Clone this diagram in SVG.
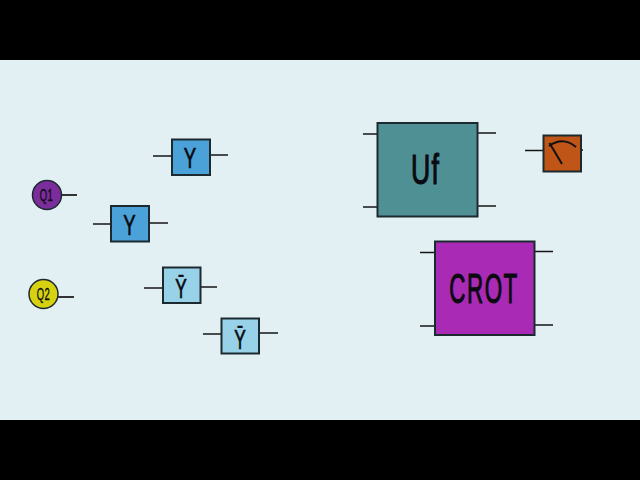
<svg xmlns="http://www.w3.org/2000/svg" width="640" height="480" viewBox="0 0 640 480">
<style>
.box{stroke:#1c2a30;stroke-width:2}
.w{stroke:#141414;stroke-width:1.700;fill:none}
.t{font-family:"Liberation Sans",Arial,sans-serif;fill:#0a0a10;stroke:#0a0a10;text-anchor:middle}
</style>
<rect width="640" height="480" fill="#000"/>
<rect y="60" width="640" height="360" fill="#e3f0f3"/>
<g id="connectors">
<path class="w" d="M62 195H77"/>
<path class="w" d="M58 297H74"/>
<path class="w" d="M153 156H172M210 155H228"/>
<path class="w" d="M93 224H111M149 223H168"/>
<path class="w" d="M144 288H163M201 287H217"/>
<path class="w" d="M203 334H221M260 333H278"/>
<path class="w" d="M363 134H378M477 133H496M363 207H378M477 206H496"/>
<path class="w" d="M525 150.500H544M581 150H583"/>
<path class="w" d="M420 252.500H435M534 251.500H553M420 326H435M534 325H553"/>
</g>
<g id="q1"><circle cx="47" cy="195" r="14.500" fill="#7b2d9b" stroke="#1c2a30" stroke-width="1.500"/><text class="t" stroke-width=".3" letter-spacing=".8" transform="translate(46.500 201) scale(.56 1)" font-size="17">Q1</text></g>
<g id="q2"><circle cx="43.500" cy="294" r="14.500" fill="#d6d20f" stroke="#1c2a30" stroke-width="1.500"/><text class="t" stroke-width=".3" letter-spacing=".8" transform="translate(43.500 300) scale(.56 1)" font-size="17">Q2</text></g>
<g id="y1"><rect class="box" x="172" y="139.500" width="38" height="35.500" fill="#4aa2d9"/><text class="t" stroke-width=".7" transform="translate(190 168) scale(.64 1)" font-size="29">Y</text></g>
<g id="y2"><rect class="box" x="111" y="206" width="38" height="35.500" fill="#4aa2d9"/><text class="t" stroke-width=".7" transform="translate(129.500 235) scale(.64 1)" font-size="29">Y</text></g>
<g id="ybar1"><rect class="box" x="163" y="267.500" width="37.500" height="35.500" fill="#97d2e8"/><text class="t" stroke-width=".7" transform="translate(181 298) scale(.64 1)" font-size="27">Ȳ</text></g>
<g id="ybar2"><rect class="box" x="221.500" y="318.500" width="37.500" height="35" fill="#97d2e8"/><text class="t" stroke-width=".7" transform="translate(240 349) scale(.64 1)" font-size="27">Ȳ</text></g>
<g id="uf"><rect class="box" x="377.500" y="123" width="100" height="93.500" fill="#4f9095"/><text class="t" stroke-width="1.200" letter-spacing="2" transform="translate(425.500 183.500) scale(.62 1)" font-size="43">Uf</text></g>
<g id="meter"><rect class="box" x="543.500" y="135.500" width="37.500" height="36" fill="#bf5517"/><path d="M549 146Q563 136 576 147M549.500 143L562 164" fill="none" stroke="#111" stroke-width="2"/></g>
<g id="crot"><rect class="box" x="435" y="241.500" width="99.500" height="93.500" fill="#a92bb5"/><text class="t" stroke-width="1.200" letter-spacing="3" transform="translate(484 303) scale(.52 1)" font-size="43">CROT</text></g>
</svg>
